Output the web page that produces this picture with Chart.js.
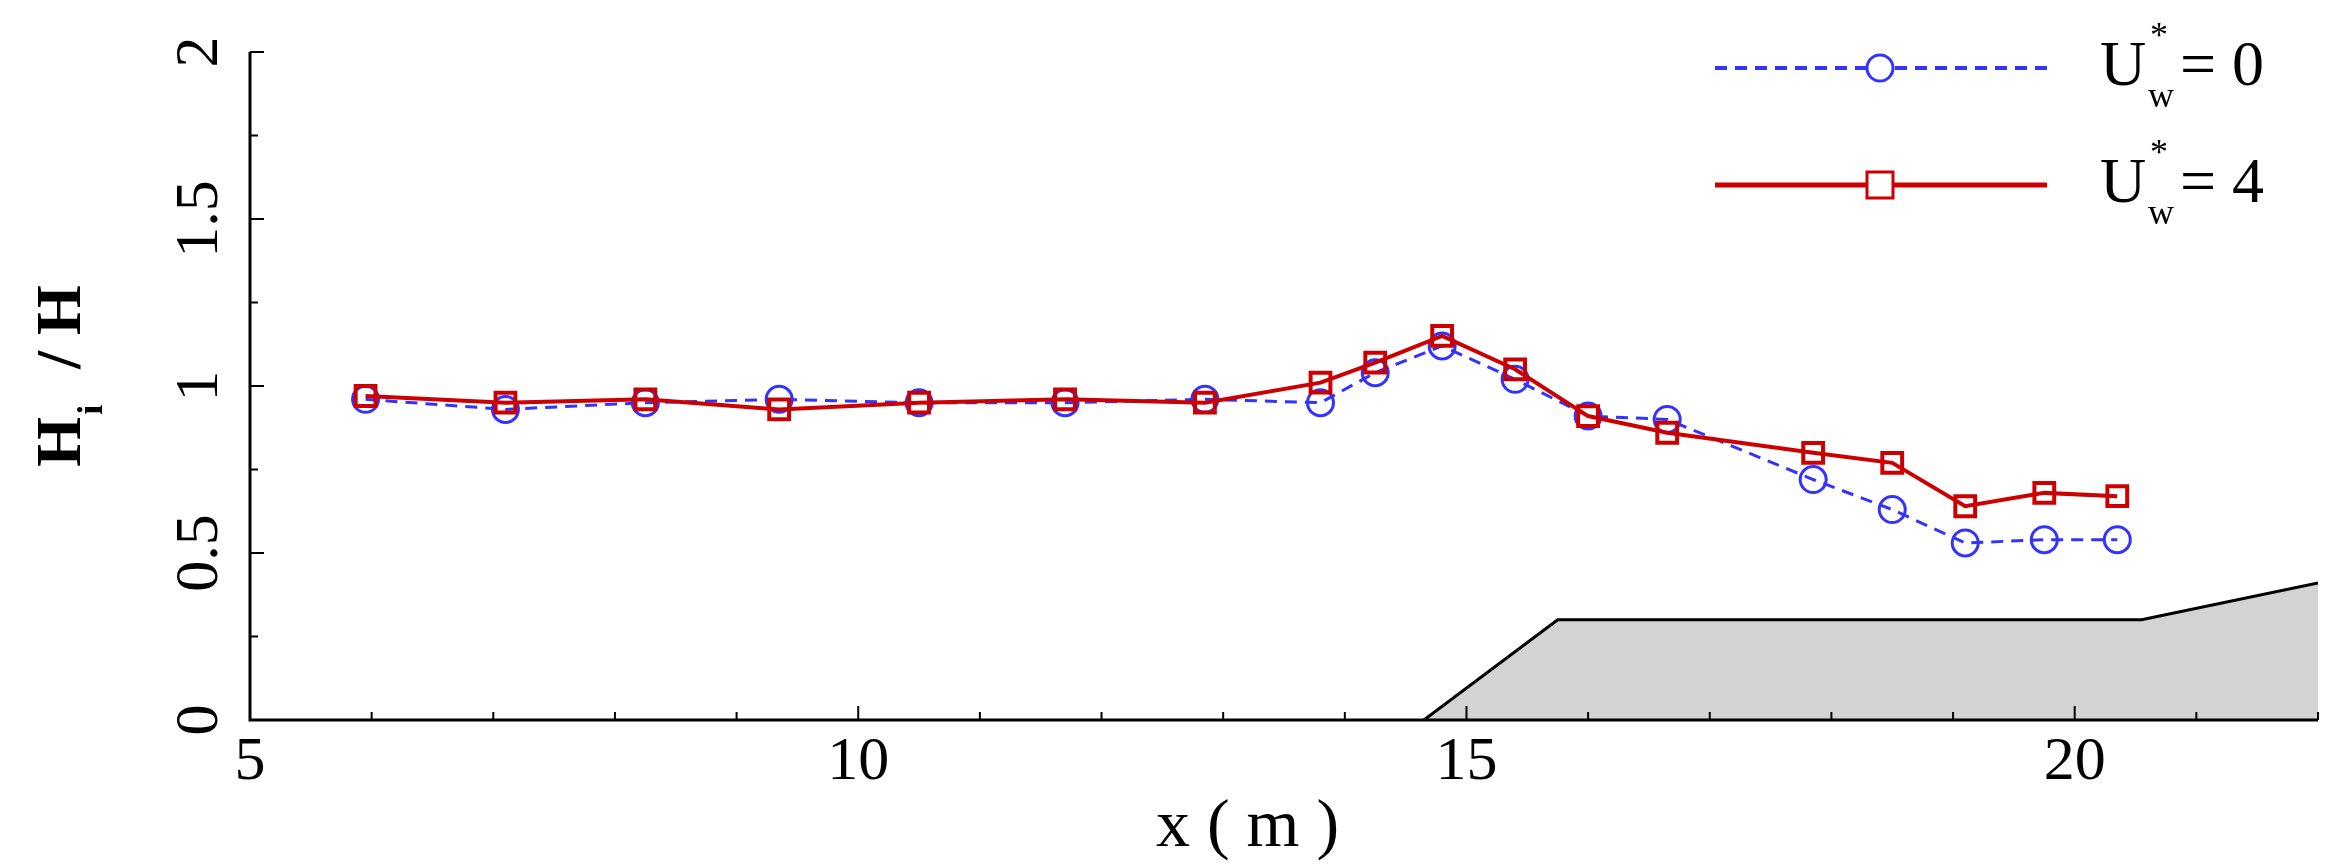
<!DOCTYPE html>
<html>
<head>
<meta charset="utf-8">
<script src="https://cdn.jsdelivr.net/npm/chart.js@4/dist/chart.umd.min.js"></script>
<style>
  html, body { margin: 0; padding: 0; background: #fff; }
  #wrap { width: 2348px; height: 866px; }
</style>
</head>
<body>
<div id="wrap"><canvas id="hChart"></canvas></div>
<script>
// measurement stations (x in m) and wave height ratios
const stations = [5.95, 7.1, 8.25, 9.35, 10.5, 11.7, 12.85, 13.8, 14.25, 14.8, 15.4, 16.0, 16.65, 17.85, 18.5, 19.1, 19.75, 20.35];
const noWind = [0.96, 0.93, 0.95, 0.96, 0.95, 0.95, 0.96, 0.95, 1.04, 1.12, 1.02, 0.91, 0.90, 0.72, 0.63, 0.53, 0.54, 0.54];
const wind4 = [0.97, 0.95, 0.96, 0.93, 0.95, 0.96, 0.95, 1.01, 1.07, 1.15, 1.05, 0.91, 0.86, 0.80, 0.77, 0.64, 0.68, 0.67];
// bottom profile
const bedX = [14.65, 15.75, 20.55, 22];
const bedY = [0, 0.3, 0.3, 0.41];
const xTicks = [5, 10, 15, 20];
const yTicks = [0, 0.5, 1, 1.5, 2];

const pts = (xs, ys) => xs.map((x, i) => ({ x: x, y: ys[i] }));
const SERIF = '"Liberation Serif", "DejaVu Serif", serif';

const frame = {
  id: 'frame',
  afterDraw(chart) {
    const ctx = chart.ctx;
    const xs = chart.scales.x, ys = chart.scales.y;
    const a = chart.chartArea;
    ctx.save();
    ctx.strokeStyle = '#000';
    ctx.lineWidth = 3;
    ctx.beginPath();
    ctx.moveTo(a.left, a.top); ctx.lineTo(a.left, a.bottom); ctx.lineTo(a.right, a.bottom);
    ctx.stroke();
    ctx.lineWidth = 2;
    // minor/major ticks pointing inward
    for (let v = 0; v <= 2.0001; v += 0.25) {
      const y = ys.getPixelForValue(v);
      const len = Math.abs(v * 2 - Math.round(v * 2)) < 1e-6 ? 14 : 8;
      ctx.beginPath(); ctx.moveTo(a.left, y); ctx.lineTo(a.left + len, y); ctx.stroke();
    }
    for (let v = 5; v <= 22; v += 1) {
      const x = xs.getPixelForValue(v);
      const len = v % 5 === 0 ? 14 : 8;
      ctx.beginPath(); ctx.moveTo(x, a.bottom); ctx.lineTo(x, a.bottom - len); ctx.stroke();
    }
    ctx.fillStyle = '#000';
    ctx.font = '62px ' + SERIF;
    ctx.textAlign = 'center';
    ctx.textBaseline = 'top';
    xTicks.forEach(v => ctx.fillText(String(v), xs.getPixelForValue(v), a.bottom + 12));
    yTicks.forEach(v => {
      ctx.save();
      ctx.translate(a.left - 18, ys.getPixelForValue(v));
      ctx.rotate(-Math.PI / 2);
      ctx.textBaseline = 'bottom';
      ctx.fillText(String(v), 0, 0);
      ctx.restore();
    });
    // axis titles
    ctx.font = '68px ' + SERIF;
    ctx.textBaseline = 'top';
    ctx.fillText('x ( m )', xs.getPixelForValue(13.2), a.bottom + 74);
    ctx.save();
    ctx.translate(95, ys.getPixelForValue(1.03));
    ctx.rotate(-Math.PI / 2);
    ctx.font = 'bold 64px ' + SERIF;
    ctx.textBaseline = 'bottom';
    ctx.textAlign = 'left';
    const w = ctx.measureText('H   / H').width;
    const hw = ctx.measureText('H').width;
    ctx.fillText('H   / H', -w / 2, 0);
    ctx.font = 'bold 36px ' + SERIF;
    ctx.fillText('i', -w / 2 + hw + 2, 16);
    ctx.restore();
    // legend
    const items = [
      { y: 68, color: '#3333ff', dash: [12, 8], w: 4, label: '0', shape: 'circle' },
      { y: 185, color: '#cc0000', dash: [], w: 5, label: '4', shape: 'rect' }
    ];
    items.forEach(it => {
      ctx.strokeStyle = it.color;
      ctx.lineWidth = it.w;
      ctx.setLineDash(it.dash);
      ctx.beginPath(); ctx.moveTo(1715, it.y); ctx.lineTo(2047, it.y); ctx.stroke();
      ctx.setLineDash([]);
      ctx.lineWidth = 3;
      ctx.fillStyle = '#fff';
      ctx.beginPath();
      if (it.shape === 'circle') ctx.arc(1880, it.y, 13, 0, Math.PI * 2);
      else ctx.rect(1867, it.y - 13, 26, 26);
      ctx.fill(); ctx.stroke();
      ctx.fillStyle = '#000';
      ctx.textAlign = 'left';
      ctx.textBaseline = 'middle';
      ctx.font = '64px ' + SERIF;
      ctx.fillText('U', 2100, it.y);
      ctx.font = '36px ' + SERIF;
      ctx.fillText('*', 2150, it.y - 30);
      ctx.fillText('w', 2148, it.y + 30);
      ctx.font = '64px ' + SERIF;
      ctx.fillText('= ' + it.label, 2180, it.y);
    });
    ctx.restore();
  }
};

new Chart(document.getElementById('hChart'), {
  type: 'scatter',
  data: {
    datasets: [
      {
        label: 'bed',
        data: pts(bedX, bedY),
        showLine: true,
        borderColor: '#000',
        borderWidth: 3,
        backgroundColor: '#d3d3d3',
        fill: 'origin',
        pointRadius: 0,
        order: 3
      },
      {
        label: 'U*w = 0',
        data: pts(stations, noWind),
        showLine: true,
        borderColor: '#3333ff',
        borderWidth: 3,
        borderDash: [12, 8],
        pointStyle: 'circle',
        pointRadius: 13,
        pointBorderWidth: 3,
        pointBackgroundColor: 'rgba(255,255,255,0)',
        order: 2
      },
      {
        label: 'U*w = 4',
        data: pts(stations, wind4),
        showLine: true,
        borderColor: '#cc0000',
        borderWidth: 4,
        pointStyle: 'rect',
        pointRadius: 14,
        pointBorderWidth: 4,
        pointBackgroundColor: 'rgba(255,255,255,0)',
        order: 1
      }
    ]
  },
  options: {
    responsive: true,
    maintainAspectRatio: false,
    animation: false,
    layout: { padding: { left: 250, right: 30, top: 52, bottom: 146 } },
    plugins: { legend: { display: false }, tooltip: { enabled: false } },
    scales: {
      x: { type: 'linear', min: 5, max: 22, display: false },
      y: { type: 'linear', min: 0, max: 2, display: false }
    }
  },
  plugins: [frame]
});
</script>
</body>
</html>
